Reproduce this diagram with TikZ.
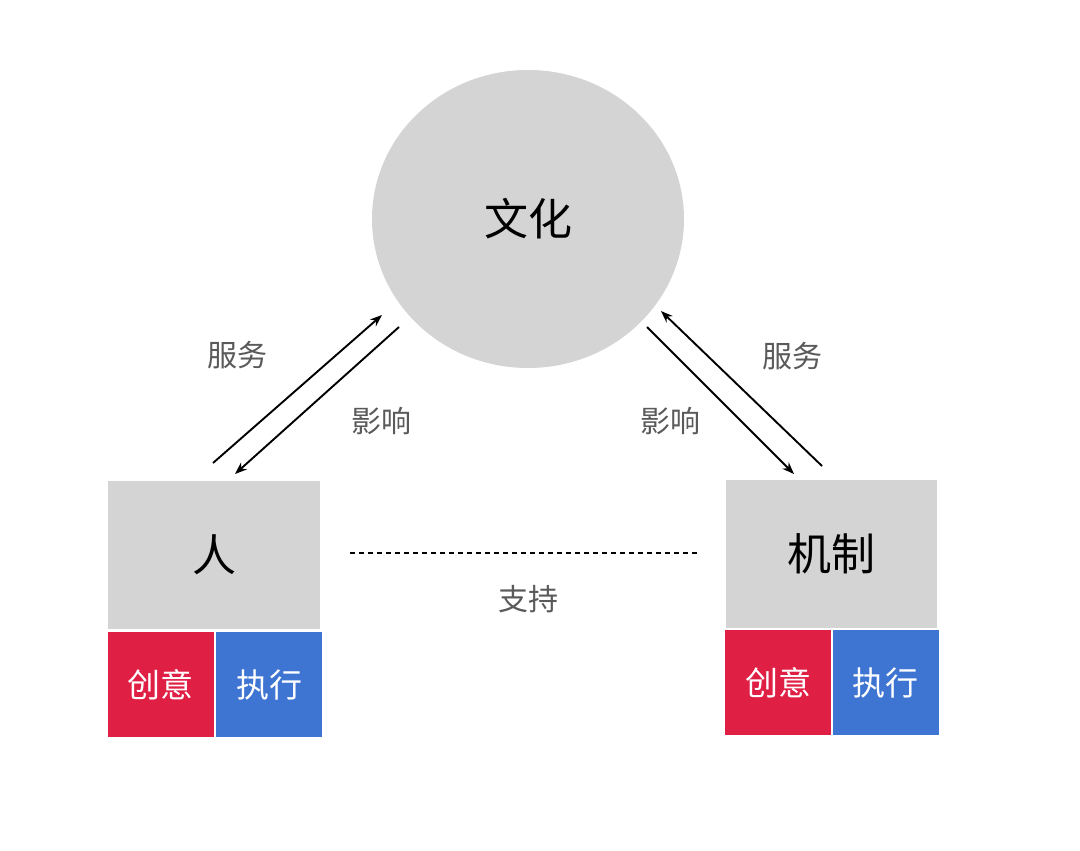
\documentclass[tikz,border=0pt]{standalone}
\usepackage{fontspec}
\newfontfamily\cjk{Noto Sans CJK SC}
\usetikzlibrary{shapes.geometric,arrows.meta}
\definecolor{boxgray}{HTML}{D4D4D4}
\definecolor{cred}{HTML}{E01F45}
\definecolor{cblue}{HTML}{3E74D2}
\definecolor{lblgray}{HTML}{5A5A5A}
\begin{document}
\begin{tikzpicture}[x=1pt,y=-1pt,
  graybox/.style={rectangle,fill=boxgray,inner sep=0pt,font=\cjk\fontsize{44}{48}\selectfont},
  colbox/.style={rectangle,inner sep=0pt,minimum width=106pt,minimum height=105pt,text=white,font=\cjk\fontsize{33}{36}\selectfont},
  lbl/.style={text=lblgray,font=\cjk\fontsize{30}{34}\selectfont,inner sep=0pt},
  arr/.style={line width=1.9pt,-{Stealth[length=12pt,width=9pt]}}]
\useasboundingbox (0,0) rectangle (1080,851);
\fill[white] (0,0) rectangle (1080,851);
% culture
\node[ellipse,fill=boxgray,minimum width=312pt,minimum height=298pt,inner sep=0pt,font=\cjk\fontsize{44}{48}\selectfont] (culture) at (528,219) {文化};
% people
\node[graybox,minimum width=212pt,minimum height=148pt] (people) at (214,555) {人};
\node[colbox,fill=cred] (pc) at (160.5,684.5) {创意};
\node[colbox,fill=cblue] (pe) at (269,684.5) {执行};
% mechanism
\node[graybox,minimum width=211pt,minimum height=148pt] (mech) at (831.5,553.5) {机制};
\node[colbox,fill=cred] (mc) at (778,682.5) {创意};
\node[colbox,fill=cblue] (me) at (885.5,682.5) {执行};
% arrow endpoints
\coordinate (a1s) at (213,463);
\coordinate (a1e) at (382,315);
\coordinate (a2s) at (399,327);
\coordinate (a2e) at (235,474);
\coordinate (a3s) at (822,466);
\coordinate (a3e) at (661,311);
\coordinate (a4s) at (647,327);
\coordinate (a4e) at (794,474);
\draw[arr] (a1s) -- (a1e);
\draw[arr] (a2s) -- (a2e);
\draw[arr] (a3s) -- (a3e);
\draw[arr] (a4s) -- (a4e);
% labels
\node[lbl] (l1) at (237,355) {服务};
\node[lbl] (l2) at (381,421) {影响};
\node[lbl] (l3) at (792,356) {服务};
\node[lbl] (l4) at (670,421) {影响};
% support
\coordinate (ds) at (350,553);
\coordinate (de) at (697,553);
\draw[line width=2.4pt,dash pattern=on 5pt off 4pt] (ds) -- (de);
\node[lbl] (sup) at (528,599) {支持};
\end{tikzpicture}
\end{document}
